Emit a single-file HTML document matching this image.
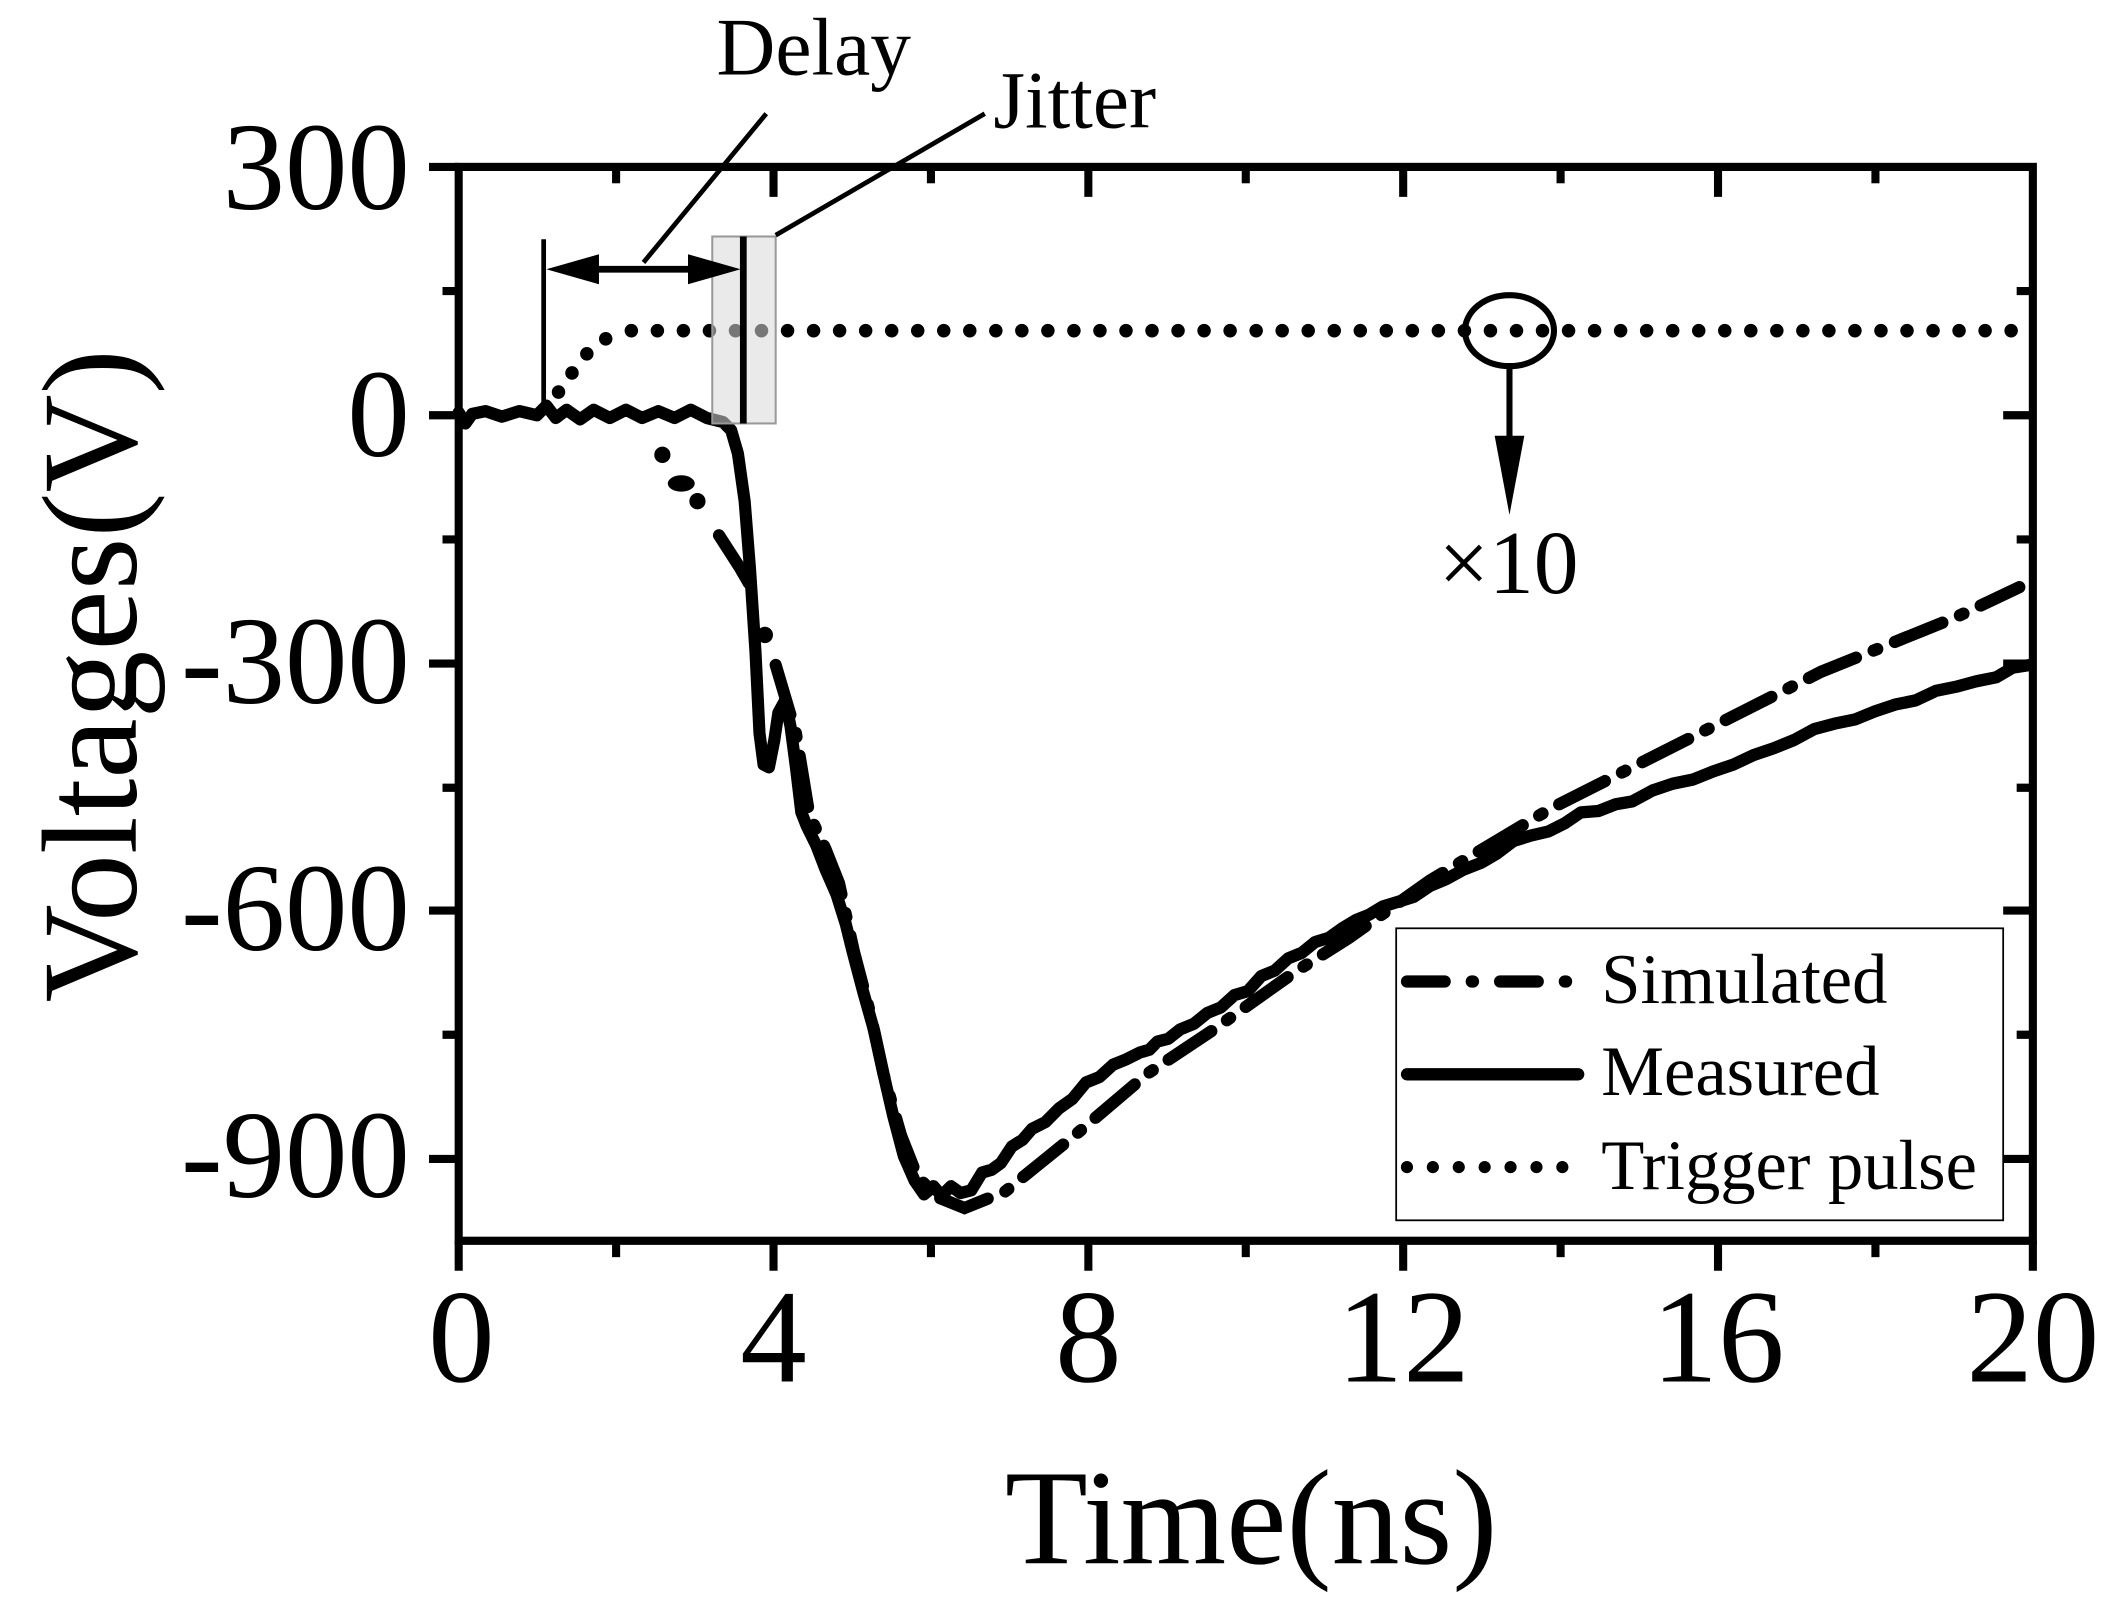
<!DOCTYPE html>
<html><head><meta charset="utf-8"><style>
html,body{margin:0;padding:0;background:#fff;}
svg{display:block;}
text{font-family:"Liberation Serif",serif;fill:#000;}
</style></head><body>
<svg width="2117" height="1599" viewBox="0 0 1560 1178.3" xmlns="http://www.w3.org/2000/svg">
<rect x="0" y="0" width="1560" height="1179" fill="#fff"/>
<g transform="translate(338,306) scale(0.994,1.0055) translate(-340,-307)">
<g fill="#000">
<circle cx="404" cy="302" r="5"/><circle cx="414" cy="290" r="5"/><circle cx="424" cy="276" r="5"/><circle cx="435" cy="262" r="5"/><circle cx="449" cy="251" r="5"/>
</g>
<line x1="468" y1="245" x2="1507" y2="245" stroke="#000" stroke-width="10" stroke-linecap="round" stroke-dasharray="0 19.3"/>
<rect x="340" y="125" width="1167" height="787" fill="none" stroke="#000" stroke-width="6"/>
<g stroke="#000" stroke-width="6">
<line x1="340" y1="912" x2="340" y2="934"/><line x1="573.4" y1="912" x2="573.4" y2="934"/><line x1="806.8" y1="912" x2="806.8" y2="934"/><line x1="1040.2" y1="912" x2="1040.2" y2="934"/><line x1="1273.6" y1="912" x2="1273.6" y2="934"/><line x1="1507" y1="912" x2="1507" y2="934"/>
<line x1="456.7" y1="912" x2="456.7" y2="924"/><line x1="690.1" y1="912" x2="690.1" y2="924"/><line x1="923.5" y1="912" x2="923.5" y2="924"/><line x1="1156.9" y1="912" x2="1156.9" y2="924"/><line x1="1390.3" y1="912" x2="1390.3" y2="924"/>
<line x1="573.4" y1="125" x2="573.4" y2="147"/><line x1="806.8" y1="125" x2="806.8" y2="147"/><line x1="1040.2" y1="125" x2="1040.2" y2="147"/><line x1="1273.6" y1="125" x2="1273.6" y2="147"/>
<line x1="456.7" y1="125" x2="456.7" y2="137"/><line x1="690.1" y1="125" x2="690.1" y2="137"/><line x1="923.5" y1="125" x2="923.5" y2="137"/><line x1="1156.9" y1="125" x2="1156.9" y2="137"/><line x1="1390.3" y1="125" x2="1390.3" y2="137"/>
<line x1="318" y1="125" x2="340" y2="125"/><line x1="318" y1="307" x2="340" y2="307"/><line x1="318" y1="489" x2="340" y2="489"/><line x1="318" y1="670" x2="340" y2="670"/><line x1="318" y1="852" x2="340" y2="852"/>
<line x1="328" y1="216" x2="340" y2="216"/><line x1="328" y1="398" x2="340" y2="398"/><line x1="328" y1="580" x2="340" y2="580"/><line x1="328" y1="761" x2="340" y2="761"/>
<line x1="1485" y1="307" x2="1507" y2="307"/><line x1="1485" y1="489" x2="1507" y2="489"/><line x1="1485" y1="670" x2="1507" y2="670"/><line x1="1485" y1="852" x2="1507" y2="852"/>
<line x1="1495" y1="216" x2="1507" y2="216"/><line x1="1495" y1="398" x2="1507" y2="398"/><line x1="1495" y1="580" x2="1507" y2="580"/><line x1="1495" y1="761" x2="1507" y2="761"/>
</g>
<g fill="#000"><circle cx="491" cy="336" r="6"/><ellipse cx="505" cy="357" rx="10" ry="6"/><circle cx="517" cy="370" r="6"/><circle cx="567" cy="468" r="6"/></g>
<polyline fill="none" stroke="#000" stroke-width="9" stroke-linecap="round" points="533,395 548,418 555,430"/>
<polyline fill="none" stroke="#000" stroke-width="9" stroke-linecap="round" stroke-dasharray="38 14 3 14" points="575,490 590,540 600,600 612,625 622,650 633,700 645,745 655,790 668,835 680,865 695,880 715,888 745,876 770,856 800,832 850,790 900,757 960,715 1000,690 1060,648 1150,595 1250,545 1350,495 1450,455 1497,433"/>
<polyline fill="none" stroke="#000" stroke-width="9" stroke-linejoin="round" stroke-linecap="round" points="340,305 345,313 350,306 360,304 372,308 385,304 398,307 405,300 412,309 420,303 430,310 440,303 452,309 464,303 476,309 488,304 500,309 512,303 524,309 536,312 542,318 547,335 552,370 556,420 560,480 563,540 566,563 570,565 574,545 577,525 582,516 586,535 590,565 594,598 598,608 605,622 612,640 620,658 627,680 632,700 640,730 648,758 655,790 662,820 670,850 678,868 685,878 692,872 698,879 705,872 712,877 720,875 728,862 735,860 742,855 750,843 758,838 765,830 775,825 785,815 795,808 805,796 815,792 825,783 835,779 845,774 852,772 858,766 866,764 875,757 885,753 895,745 905,741 915,732 925,729 935,718 945,714 955,705 965,701 975,693 985,690 995,683 1005,677 1015,673 1025,667 1035,664 1048,660 1060,652 1072,647 1085,640 1098,635 1110,628 1122,619 1135,615 1148,612 1160,606 1172,598 1185,597 1198,592 1210,590 1225,582 1240,577 1255,574 1270,568 1285,563 1300,556 1315,551 1330,545 1345,537 1360,533 1375,530 1390,524 1405,519 1420,516 1435,509 1450,506 1465,502 1480,499 1492,492 1505,490"/>
<line x1="403" y1="178" x2="403" y2="305" stroke="#000" stroke-width="3.5"/>
<rect x="528" y="176" width="47" height="137" fill="#d9d9d9" fill-opacity="0.55" stroke="#999" stroke-width="1.5"/>
<line x1="551" y1="176" x2="551" y2="313" stroke="#000" stroke-width="5"/>
<line x1="430" y1="200" x2="525" y2="200" stroke="#000" stroke-width="5"/>
<polygon points="405,200 444,189 444,211" fill="#000"/>
<polygon points="549,200 510,189 510,211" fill="#000"/>
<line x1="477" y1="195" x2="568" y2="86" stroke="#000" stroke-width="3.5"/>
<line x1="575" y1="175" x2="730" y2="86" stroke="#000" stroke-width="3.5"/>
<ellipse cx="1119" cy="245" rx="33" ry="26" fill="none" stroke="#000" stroke-width="4.5"/>
<line x1="1119" y1="271" x2="1119" y2="340" stroke="#000" stroke-width="4.5"/>
<polygon points="1108,322 1130,322 1119,380" fill="#000"/>
<rect x="1035" y="683" width="450" height="214" fill="#fff" stroke="#000" stroke-width="1.3"/>
<line x1="1043" y1="722" x2="1170" y2="722" stroke="#000" stroke-width="9" stroke-linecap="round" stroke-dasharray="28 20 1 20"/>
<line x1="1043" y1="790" x2="1170" y2="790" stroke="#000" stroke-width="9" stroke-linecap="round"/>
<line x1="1043" y1="858" x2="1165" y2="858" stroke="#000" stroke-width="9" stroke-linecap="round" stroke-dasharray="0 19.2"/>
</g>
<g font-size="52"><text x="1180" y="739">Simulated</text><text x="1180" y="807">Measured</text><text x="1180" y="876">Trigger pulse</text></g>
<text x="528" y="55" font-size="60">Delay</text>
<text x="732" y="94" font-size="60">Jitter</text>
<text x="1060" y="437" font-size="66">×10</text>
<g font-size="98" text-anchor="middle">
<text x="340" y="1018">0</text><text x="570" y="1018">4</text><text x="802" y="1018">8</text><text x="1034" y="1018">12</text><text x="1266" y="1018">16</text><text x="1498" y="1018">20</text>
</g>
<g font-size="92" text-anchor="end">
<text x="302" y="154">300</text><text x="302" y="336">0</text><text x="302" y="518">-300</text><text x="302" y="700">-600</text><text x="302" y="882">-900</text>
</g>
<text x="922" y="1152" font-size="100" text-anchor="middle">Time(ns)</text>
<text transform="translate(100,498) rotate(-90)" font-size="100" text-anchor="middle">Voltages(V)</text>
</svg>
</body></html>
